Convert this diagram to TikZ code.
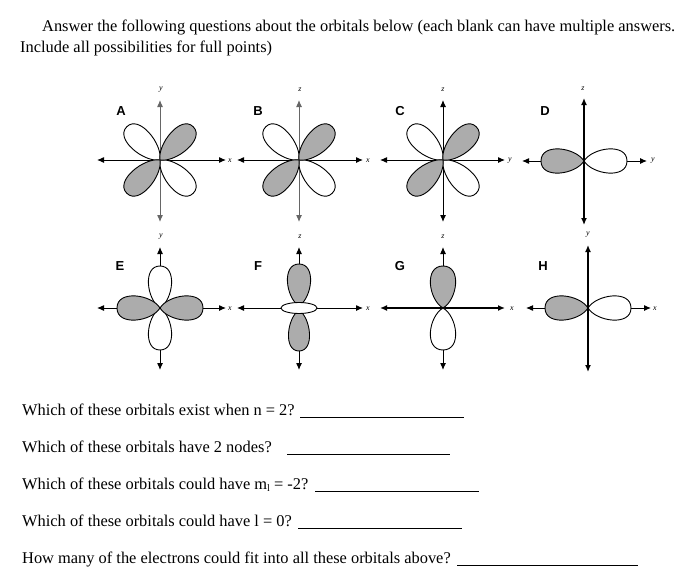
\documentclass[tikz,border=0pt]{standalone}
\usepackage{fontspec}
\setmainfont{Liberation Serif}
\newfontfamily\lblfont{Liberation Sans}
\usetikzlibrary{arrows.meta}
\tikzset{
  ax/.style={line width=1pt,{Latex[length=7pt,width=6pt]}-{Latex[length=7pt,width=6pt]}},
  lobeS/.style={draw=black,line width=0.9pt,fill=gray!65},
  lobeW/.style={draw=black,line width=0.9pt,fill=white},
  albl/.style={font=\itshape\fontsize{8}{8}\selectfont,inner sep=1pt},
  olbl/.style={font=\lblfont\bfseries\fontsize{13}{13}\selectfont},
  qtxt/.style={font=\fontsize{16.4}{18}\selectfont,anchor=base west,inner sep=0pt},
  blank/.style={line width=0.6pt}
}
\newcommand\petal[6]{% style,cx,cy,angle,L,W
  \path[#1,shift={(#2,#3)},rotate=-#4] (0,0) .. controls ({0.2*#5},{1.2*#6}) and ({#5},{1.6*#6}) .. ({#5},0) .. controls ({#5},{-1.6*#6}) and ({0.2*#5},{-1.2*#6}) .. (0,0);}
\begin{document}
\begin{tikzpicture}[x=1pt,y=-1pt]
\useasboundingbox (0,0) rectangle (699,586);
\node[qtxt] (h1) at (42,32) {Answer the following questions about the orbitals below (each blank can have multiple answers.};
\node[qtxt] (h2) at (20,53) {Include all possibilities for full points)};
% ---------- A ----------
\draw[ax] (97,160) -- (226,160);
\draw[ax,draw=gray!80!black] (160,100) -- (160,222);
\petal{lobeW}{160}{160}{-135}{47}{11}
\petal{lobeW}{160}{160}{45}{47}{11}
\petal{lobeS}{160}{160}{-45}{47}{11}
\petal{lobeS}{160}{160}{135}{47}{11}
\node[albl] (Ax) at (230,161) {x};
\node[albl] (Ay) at (161,90) {y};
\node[olbl] (Al) at (121,111) {A};
% ---------- B ----------
\draw[ax] (237,160) -- (363,160);
\draw[ax,draw=gray!80!black] (299,100) -- (299,222);
\petal{lobeW}{299}{160}{-135}{47}{11}
\petal{lobeW}{299}{160}{45}{47}{11}
\petal{lobeS}{299}{160}{-45}{47}{11}
\petal{lobeS}{299}{160}{135}{47}{11}
\node[albl] (Bx) at (368,161) {x};
\node[albl] (Bz) at (300,90) {z};
\node[olbl] (Bl) at (258,111) {B};
% ---------- C ----------
\draw[ax] (380,160) -- (505,160);
\draw[ax] (443,100) -- (443,222);
\petal{lobeW}{443}{160}{-135}{47}{11}
\petal{lobeW}{443}{160}{45}{47}{11}
\petal{lobeS}{443}{160}{-45}{47}{11}
\petal{lobeS}{443}{160}{135}{47}{11}
\node[albl] (Cy) at (510,161) {y};
\node[albl] (Cz) at (443,90) {z};
\node[olbl] (Cl) at (400,111) {C};
% ---------- D ----------
\draw[ax] (522,161) -- (647,161);
\draw[ax,line width=1.3pt] (584,98) -- (584,225);
\petal{lobeS}{584}{161}{180}{43}{11.5}
\petal{lobeW}{584}{161}{0}{43}{11.5}
\node[albl] (Dy) at (653,161) {y};
\node[albl] (Dz) at (583,89) {z};
\node[olbl] (Dl) at (545,111) {D};
% ---------- E ----------
\draw[ax] (97,308) -- (226,308);
\draw[ax] (160,247) -- (160,370);
\petal{lobeW}{160}{308}{-90}{42}{11}
\petal{lobeW}{160}{308}{90}{42}{11}
\petal{lobeS}{160}{308}{180}{43}{11.5}
\petal{lobeS}{160}{308}{0}{43}{11.5}
\node[albl] (Ex) at (230,309) {x};
\node[albl] (Ey) at (161,237) {y};
\node[olbl] (El) at (120,266) {E};
% ---------- F ----------
\draw[ax] (237,308) -- (363,308);
\draw[ax] (299,247) -- (299,370);
\petal{lobeS}{299}{306}{-90}{42}{11}
\petal{lobeS}{299}{310}{90}{41}{10}
\draw[lobeW] (299,308) ellipse (18 and 5.5);
\node[albl] (Fx) at (368,309) {x};
\node[albl] (Fz) at (300,237) {z};
\node[olbl] (Fl) at (258,266) {F};
% ---------- G ----------
\draw[ax,line width=1.3pt] (380,308) -- (505,308);
\draw[ax] (443,247) -- (443,370);
\petal{lobeS}{443}{308}{-90}{42}{12}
\petal{lobeW}{443}{308}{90}{42}{12}
\node[albl] (Gx) at (512,309) {x};
\node[albl] (Gz) at (443,237) {z};
\node[olbl] (Gl) at (400,266) {G};
% ---------- H ----------
\draw[ax] (526,308) -- (651,308);
\draw[ax,line width=1.3pt] (588,245) -- (588,372);
\petal{lobeS}{588}{308}{180}{43}{11.5}
\petal{lobeW}{588}{308}{0}{43}{11.5}
\node[albl] (Hx) at (655,309) {x};
\node[albl] (Hy) at (588,235) {y};
\node[olbl] (Hl) at (543,266) {H};
% ---------- questions ----------
\node[qtxt] (q1) at (22,415) {Which of these orbitals exist when n = 2?};
\draw[blank] (300,417) -- (464,417);
\node[qtxt] (q2) at (22,452) {Which of these orbitals have 2 nodes?};
\draw[blank] (287,454) -- (450,454);
\node[qtxt] (q3) at (22,489) {Which of these orbitals could have m\raisebox{-0.3ex}{\fontsize{10}{10}\selectfont l} = -2?};
\draw[blank] (315,491) -- (479,491);
\node[qtxt] (q4) at (22,526) {Which of these orbitals could have l = 0?};
\draw[blank] (298,528) -- (462,528);
\node[qtxt] (q5) at (22,563) {How many of the electrons could fit into all these orbitals above?};
\draw[blank] (457,565) -- (638,565);
\end{tikzpicture}
\end{document}
